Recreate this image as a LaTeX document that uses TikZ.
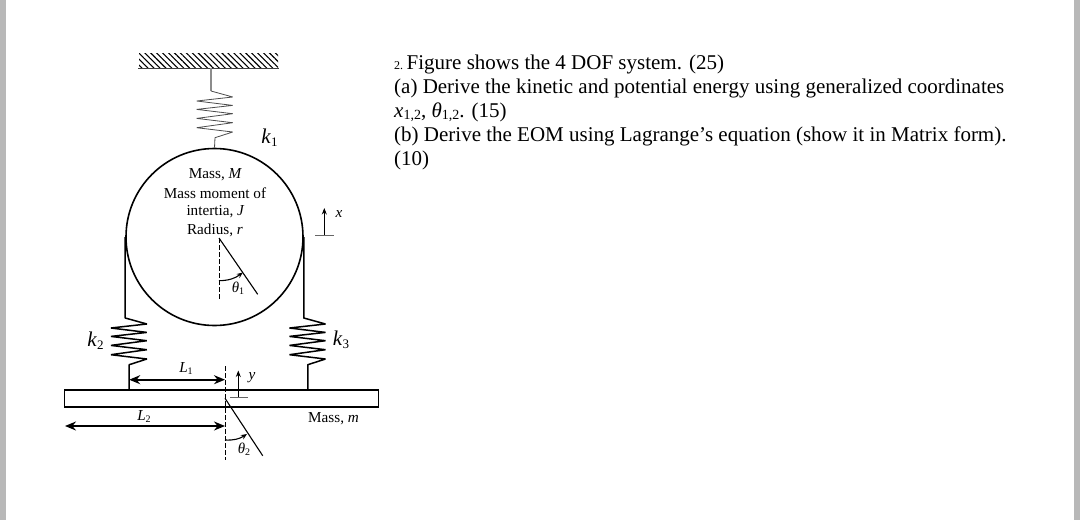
\documentclass[tikz,border=0pt]{standalone}
\usepackage{fontspec}
\setmainfont{Liberation Serif}
\usetikzlibrary{positioning,arrows.meta,patterns.meta}

\newcommand{\coilpath}{-- ++(21.7,6) -- ++(-36,4) -- ++(36,4.4) -- ++(-36,4) -- ++(36,4.3)
   -- ++(-36,4.7) -- ++(36,4.3) -- ++(-36,5) -- ++(36,4.3) -- ++(-17.7,5.7)}
\tikzset{
   lab/.style={inner sep=0pt,font=\fontsize{15.2}{17}\selectfont},
   klab/.style={inner sep=0pt,font=\fontsize{21}{22}\selectfont},
   wallbox/.style={draw=none,inner sep=0pt,minimum width=139pt,minimum height=15pt,
      pattern={Lines[angle=-45,distance=4.2pt,line width=1.1pt]}},
   coil/.style={line width=1.5pt,line join=bevel},
   thincoil/.style={line width=.8pt,black!70,line join=bevel},
   dim/.style={line width=1.6pt,{Stealth[length=11pt,width=9pt]}-{Stealth[length=11pt,width=9pt]}},
   mot/.style={line width=1pt,-{Stealth[length=6.5pt,width=5pt]}},
   datum/.style={line width=.7pt,black!60},
   centre/.style={line width=1pt,dash pattern=on 4.5pt off 2.5pt},
   turn/.style={line width=1.1pt,-{Stealth[length=6pt,width=5pt]}}
}

\begin{document}
\begin{tikzpicture}[x=1pt,y=-1pt]
   \useasboundingbox (0,0) rectangle (1080,520);
   \fill[black!28] (0,0) rectangle (6,520);
   \fill[black!28] (1074,0) rectangle (1080,520);

   \node[wallbox] (wall) at (208.5,60.5) {};
   \node[draw,circle,line width=1.6pt,inner sep=0pt,minimum size=177pt] (disc) at (214.5,237) {};
   \node[draw,line width=1.1pt,inner sep=0pt,minimum width=314.5pt,minimum height=17pt] (bar) at (221.3,398.5) {};

   \draw[line width=1.1pt,black!75] (wall.south west) -- (wall.south east);

   % springs
   \coordinate (wallpin) at (211,68);
   \draw[line width=1.1pt,black!45] (wallpin) -- ++(0,23) coordinate (k1top);
   \draw[thincoil] (k1top) \coilpath coordinate (k1end) -- (disc.north);
   \draw[coil] (disc.west) -- ++(0,81) \coilpath coordinate (k2end) -- (k2end |- bar.north);
   \draw[coil] (disc.east) -- ++(0,81) \coilpath coordinate (k3end) -- (k3end |- bar.north);

   \node[klab] (k1) at (269.5,138) {\textit{k}\raisebox{-3pt}{\fontsize{13}{13}\selectfont 1}};
   \node[klab] (k2) at (95.5,341) {\textit{k}\raisebox{-3pt}{\fontsize{13}{13}\selectfont 2}};
   \node[klab] (k3) at (341,339.5) {\textit{k}\raisebox{-3pt}{\fontsize{13}{13}\selectfont 3}};

   % disc text
   \node[lab] (mass) at (215.5,174.5) {Mass, \textit{M}};
   \node[lab] (moment) at (215,193.5) {Mass moment of};
   \node[lab] (inertia) at (215.5,212) {intertia, \textit{J}};
   \node[lab] (radius) at (215,230) {Radius, \textit{r}};

   % disc rotation
   \coordinate (pivot1) at (219,238);
   \coordinate (dash1) at (219,300);
   \coordinate (tip1) at (257.7,294.3);
   \coordinate (arc1a) at (219,280.7);
   \coordinate (arc1b) at (242.8,272.5);
   \draw[centre] (pivot1) -- (dash1);
   \draw[line width=1.1pt] (pivot1) -- (tip1);
   \draw[turn] (arc1a) to[bend right=18] (arc1b);
   \node[lab,font=\fontsize{15}{16}\selectfont] (th1) at (238,288) {\textit{θ}\raisebox{-2pt}{\fontsize{10}{10}\selectfont 1}};

   % x motion
   \coordinate (xbase) at (324.3,235.5);
   \coordinate (xtop) at (324.3,208);
   \coordinate (xl) at (315,235.5);
   \coordinate (xr) at (334,235.5);
   \draw[mot] (xbase) -- (xtop);
   \draw[datum] (xl) -- (xr);
   \node[lab] (x) at (339,214.5) {\textit{x}};

   % bar rotation
   \coordinate (dash2a) at (225,366);
   \coordinate (dash2b) at (225,460);
   \coordinate (pivot2) at (225,398.3);
   \coordinate (tip2) at (262.7,455.7);
   \coordinate (arc2a) at (225,440);
   \coordinate (arc2b) at (247,434);
   \draw[centre] (dash2a) -- (dash2b);
   \draw[line width=1.1pt] (pivot2) -- (tip2);
   \draw[turn] (arc2a) to[bend right=18] (arc2b);
   \node[lab,font=\fontsize{15}{16}\selectfont] (th2) at (244,449) {\textit{θ}\raisebox{-2pt}{\fontsize{10}{10}\selectfont 2}};

   % y motion
   \coordinate (ybase) at (238.3,397.3);
   \coordinate (ytop) at (238.3,370.5);
   \coordinate (yl) at (230,397.3);
   \coordinate (yr) at (247.7,397.3);
   \draw[mot] (ybase) -- (ytop);
   \draw[datum] (yl) -- (yr);
   \node[lab] (y) at (252,378) {\textit{y}};

   % lengths
   \coordinate (l1a) at (k2end |- 0,379.7);
   \coordinate (l1b) at (225,379.7);
   \coordinate (l2a) at (65,426);
   \coordinate (l2b) at (225,426);
   \draw[dim] (l1a) -- (l1b);
   \draw[dim] (l2a) -- (l2b);
   \node[lab] (L1) at (186,369) {\textit{L}\raisebox{-2pt}{\fontsize{10}{10}\selectfont 1}};
   \node[lab] (L2) at (144,417) {\textit{L}\raisebox{-2pt}{\fontsize{10}{10}\selectfont 2}};
   \node[lab] (massm) at (333.5,418.5) {Mass, \textit{m}};

   % question
   \node[anchor=north west,inner sep=0pt,align=left,font=\fontsize{21}{24}\selectfont] (question) at (394,55)
      {{\fontsize{12}{12}\selectfont 2.}\,Figure shows the 4 DOF system. (25)\\
       (a) Derive the kinetic and potential energy using generalized coordinates\\
       \textit{x}{\fontsize{14}{14}\selectfont\raisebox{-2pt}{1,2}}, \textit{θ}{\fontsize{14}{14}\selectfont\raisebox{-2pt}{1,2}}. (15)\\
       (b) Derive the EOM using Lagrange’s equation (show it in Matrix form).\\
       (10)};
\end{tikzpicture}
\end{document}
